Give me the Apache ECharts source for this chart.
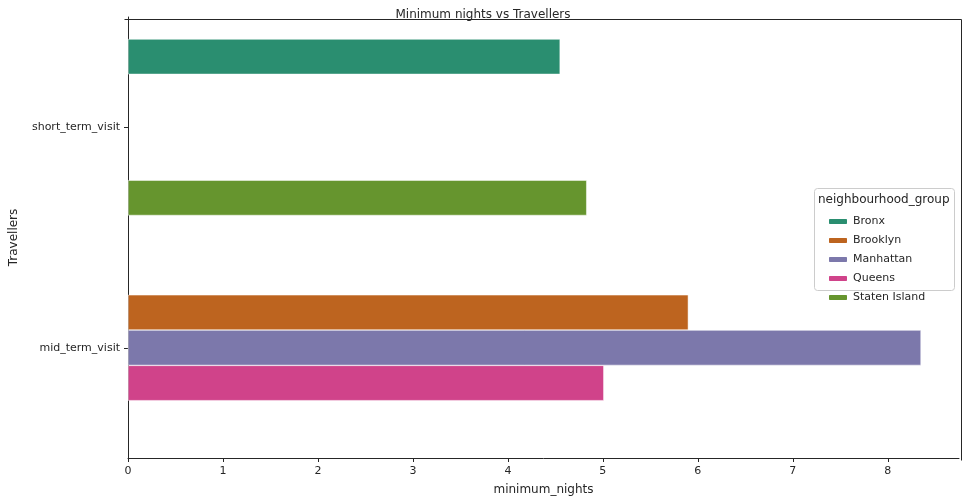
<!DOCTYPE html>
<html>
<head>
<meta charset="utf-8" />
<script src="https://cdn.jsdelivr.net/npm/echarts@6/dist/echarts.min.js"></script>
<style>html,body{margin:0;padding:0;background:#fff}#chart{width:966px;height:501px}</style>
</head>
<body>
<div id="chart"></div>
<script>
var categories = ['short_term_visit', 'mid_term_visit'];
var groups = ['Bronx', 'Brooklyn', 'Manhattan', 'Queens', 'Staten Island'];
var bronx = [4.55, null];
var brooklyn = [null, 5.9];
var manhattan = [null, 8.35];
var queens = [null, 5.01];
var statenIsland = [4.83, null];
var colors = ['#2a8e70', '#bd641f', '#7c78ab', '#d0438a', '#66952e'];

var values = [bronx, brooklyn, manhattan, queens, statenIsland];
var series = groups.map(function (g, i) {
    return {
        name: g, type: 'bar', data: values[i],
        barGap: '0%', barCategoryGap: '20%',
        itemStyle: { color: colors[i], borderColor: '#fff', borderWidth: 0.5 }
    };
});

var chart = echarts.init(document.getElementById('chart'));
chart.setOption({
    animation: false,
    textStyle: { fontFamily: 'DejaVu Sans', color: '#262626' },
    title: { text: 'Minimum nights vs Travellers', left: 'center', top: 4,
        textStyle: { fontSize: 12, fontWeight: 'normal', color: '#262626' } },
    grid: { left: 122, right: 7, top: 17, bottom: 43 },
    xAxis: {
        type: 'value', min: 0, max: 8.75, interval: 1,
        name: 'minimum_nights', nameLocation: 'middle', nameGap: 26,
        nameTextStyle: { fontSize: 12, color: '#262626' },
        axisLine: { show: true, lineStyle: { color: '#262626' } },
        axisTick: { show: true, length: 4, lineStyle: { color: '#262626' } },
        axisLabel: { fontSize: 11, color: '#262626', showMaxLabel: false },
        splitLine: { show: false }
    },
    yAxis: {
        type: 'category', data: categories, inverse: true,
        name: 'Travellers', nameLocation: 'middle', nameGap: 108,
        nameTextStyle: { fontSize: 12, color: '#262626' },
        axisLine: { show: true, lineStyle: { color: '#262626' } },
        axisTick: { show: true, alignWithLabel: true, length: 4, lineStyle: { color: '#262626' } },
        axisLabel: { fontSize: 11, color: '#262626' }
    },
    graphic: [
        { type: 'rect', shape: { x: 0, y: 0, width: 0, height: 0 } },
        { type: 'line', left: 959, top: 17, shape: { x1: 0, y1: 0, x2: 0, y2: 441 }, style: { stroke: '#262626' } },
        { type: 'line', left: 122, top: 17, shape: { x1: 0, y1: 0, x2: 837, y2: 0 }, style: { stroke: '#262626' } },
        { type: 'rect', left: 814, top: 188, shape: { width: 140, height: 102, r: 3 },
            style: { fill: '#fff', stroke: '#ccc' }, z: 10 },
        { type: 'text', left: 818, top: 194, z: 11,
            style: { text: 'neighbourhood_group', fontSize: 12, fill: '#262626', fontFamily: 'DejaVu Sans' } }
    ],
    legend: {
        data: groups, orient: 'vertical', left: 822, top: 211, z: 12,
        itemWidth: 20, itemHeight: 7, itemGap: 8,
        textStyle: { fontSize: 11, color: '#262626' }
    },
    series: series
});
</script>
</body>
</html>
